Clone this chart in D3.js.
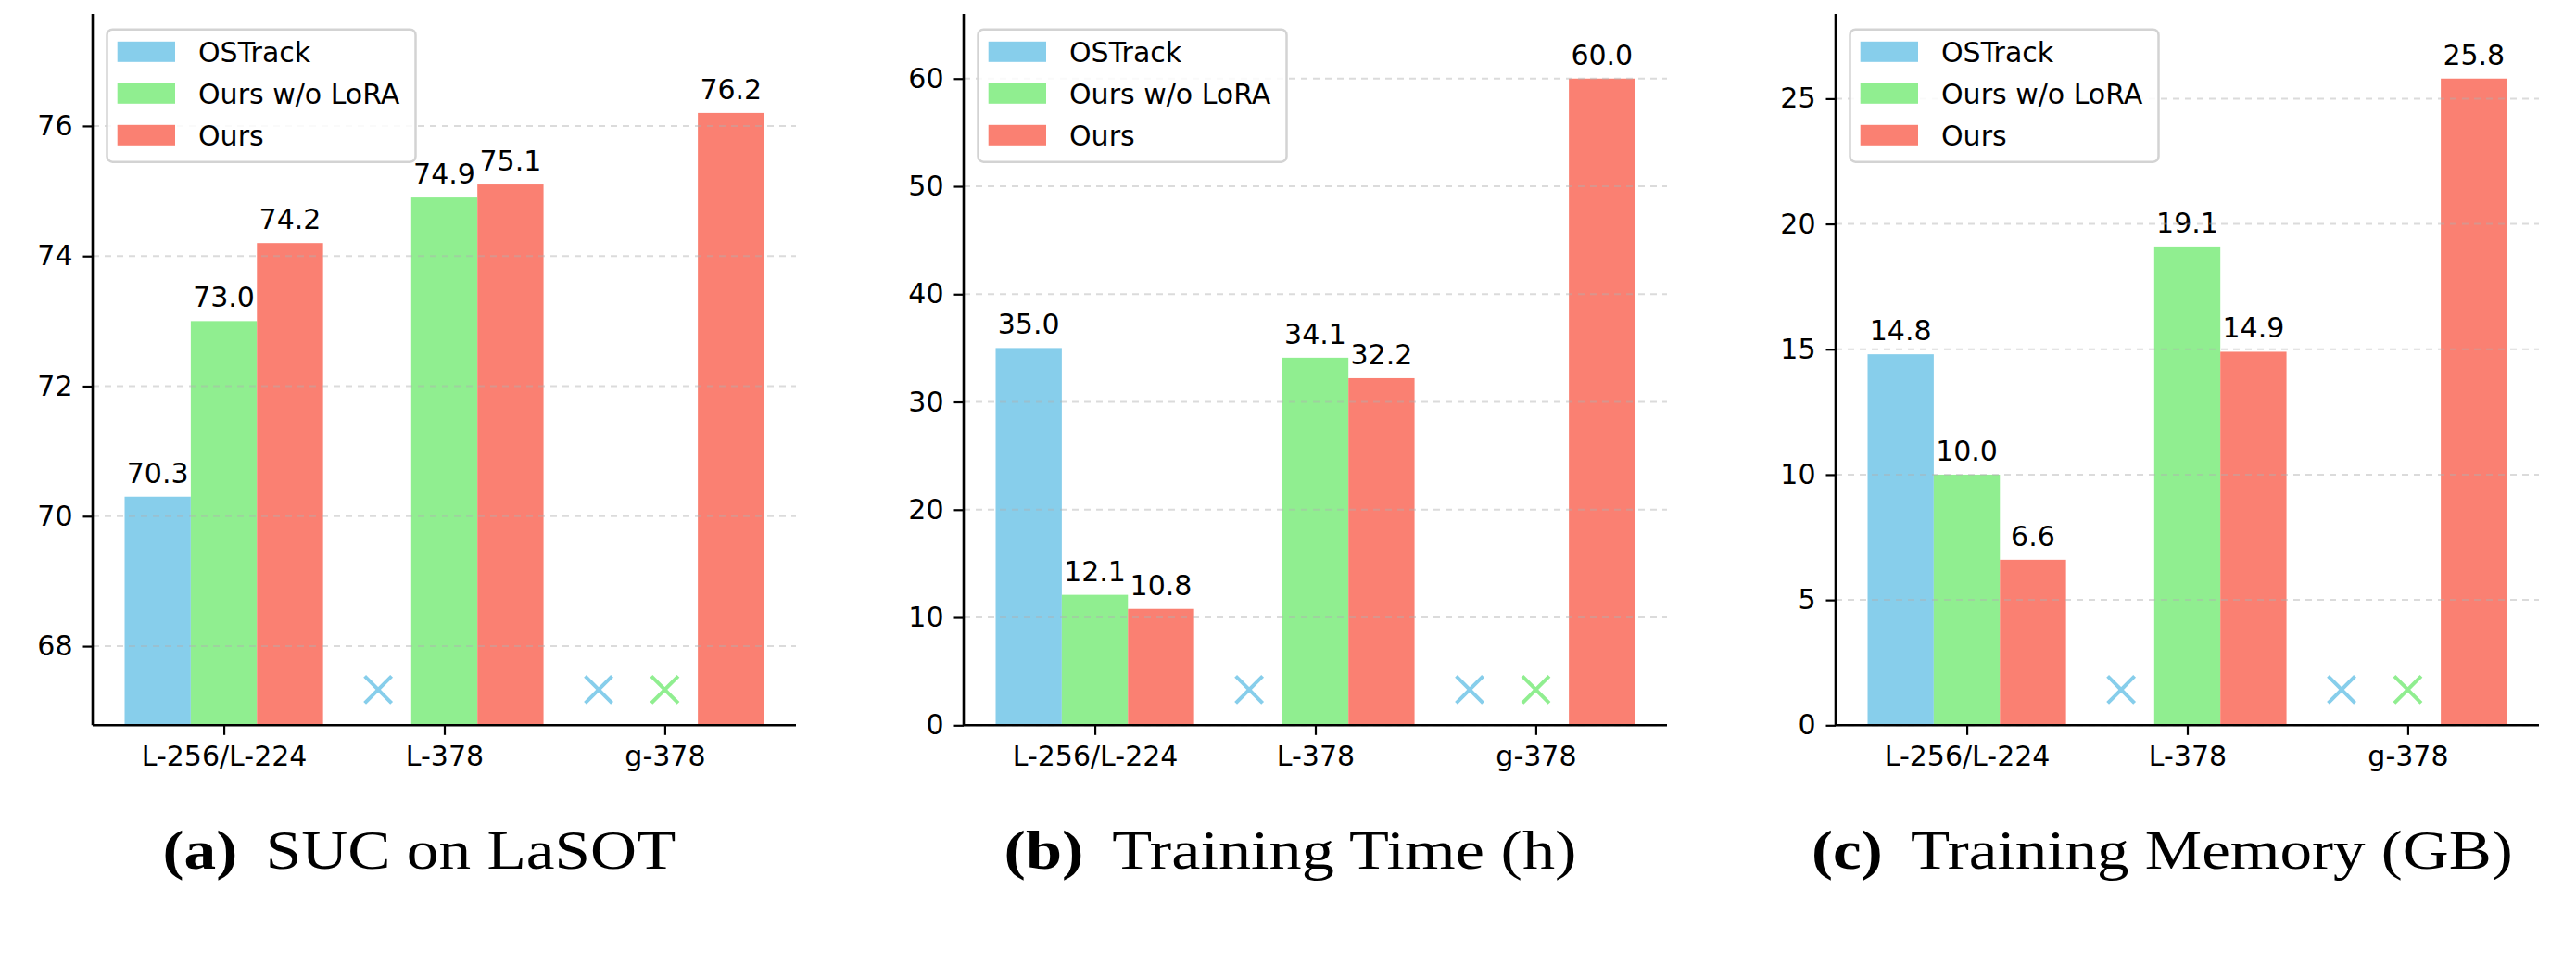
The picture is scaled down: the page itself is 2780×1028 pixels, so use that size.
<!DOCTYPE html>
<html>
<head>
<meta charset="utf-8">
<script src="https://cdn.jsdelivr.net/npm/d3@7"></script>
<style>
  html, body { margin: 0; padding: 0; background: #fff; }
  svg { display: block; }
</style>
</head>
<body>
<svg id="chart" width="2780" height="1028"></svg>
<script>
// ---------- data ----------
const categories = ["L-256/L-224", "L-378", "g-378"];
const seriesNames = ["OSTrack", "Ours w/o LoRA", "Ours"];
const seriesColors = ["#87CEEB", "#90EE90", "#FA8072"];

// (a) SUC on LaSOT
const sucOSTrack = [70.3, null, null];
const sucNoLoRA  = [73.0, 74.9, null];
const sucOurs    = [74.2, 75.1, 76.2];
// (b) Training Time (h)
const timeOSTrack = [35.0, null, null];
const timeNoLoRA  = [12.1, 34.1, null];
const timeOurs    = [10.8, 32.2, 60.0];
// (c) Training Memory (GB)
const memOSTrack = [14.8, null, null];
const memNoLoRA  = [10.0, 19.1, null];
const memOurs    = [6.6, 14.9, 25.8];

const sucTicks  = [68, 70, 72, 74, 76];
const timeTicks = [0, 10, 20, 30, 40, 50, 60];
const memTicks  = [0, 5, 10, 15, 20, 25];

const panelLabels = ["(a)", "(b)", "(c)"];
const panelTitles = ["SUC on LaSOT", "Training Time (h)", "Training Memory (GB)"];

// ---------- layout ----------
const svg = d3.select("#chart");
const axLeft = [100, 1040, 1981];
const axW = 759;
const axTop = 15, axBottom = 782.3;
const titleWidths = [554, 618, 757];
const sansFont = "'DejaVu Sans', sans-serif";

const panels = [
  { series: [sucOSTrack, sucNoLoRA, sucOurs], ticks: sucTicks, mode: "suc" },
  { series: [timeOSTrack, timeNoLoRA, timeOurs], ticks: timeTicks, mode: "zero" },
  { series: [memOSTrack, memNoLoRA, memOurs], ticks: memTicks, mode: "zero" }
];

panels.forEach((p, pi) => {
  const x0 = axLeft[pi];
  const all = p.series.flat().filter(v => v != null);
  const vmin = d3.min(all), vmax = d3.max(all);
  const ylim = p.mode === "suc" ? [vmin * 0.95, vmax * 1.02] : [0, vmax * 1.1];

  const x = d3.scaleLinear().domain([-0.595, 2.595]).range([x0, x0 + axW]);
  const y = d3.scaleLinear().domain(ylim).range([axBottom, axTop]);
  const barW = 0.3;
  const g = svg.append("g");

  // bars
  p.series.forEach((vals, si) => {
    vals.forEach((v, ci) => {
      const cx = ci + (si - 1) * barW;
      if (v == null) {
        const mx = x(cx);
        const my = axBottom - 0.05 * (axBottom - axTop);
        const r = 14.5;
        g.append("path")
          .attr("d", `M${mx - r},${my - r}L${mx + r},${my + r}M${mx - r},${my + r}L${mx + r},${my - r}`)
          .attr("stroke", seriesColors[si])
          .attr("stroke-width", 4)
          .attr("fill", "none");
      } else {
        g.append("rect")
          .attr("x", x(cx - barW / 2))
          .attr("width", x(cx + barW / 2) - x(cx - barW / 2))
          .attr("y", y(v))
          .attr("height", axBottom - y(v))
          .attr("fill", seriesColors[si]);
        g.append("text")
          .attr("x", x(cx))
          .attr("y", y(v) - 15)
          .attr("text-anchor", "middle")
          .attr("font-family", sansFont)
          .attr("font-size", 30)
          .attr("fill", "#000")
          .text(v.toFixed(1));
      }
    });
  });

  // grid (drawn over bars with transparency)
  g.selectAll(".grid").data(p.ticks).enter().append("line")
    .attr("x1", x0).attr("x2", x0 + axW)
    .attr("y1", d => y(d)).attr("y2", d => y(d))
    .attr("stroke", "#b0b0b0")
    .attr("stroke-opacity", 0.45)
    .attr("stroke-width", 2)
    .attr("stroke-dasharray", "7,6");

  // axes
  const yAxis = d3.axisLeft(y).tickValues(p.ticks).tickFormat(d3.format("d")).tickSize(10.5).tickPadding(11);
  const ya = svg.append("g").attr("transform", `translate(${x0},0)`).call(yAxis);
  ya.select(".domain").attr("d", `M0,${axTop}V${axBottom}`).attr("stroke-width", 2.6).attr("stroke", "#000");
  ya.selectAll(".tick line").attr("stroke-width", 2.2).attr("stroke", "#000");
  ya.selectAll(".tick text").attr("font-family", sansFont).attr("font-size", 30).attr("fill", "#000");

  const xAxis = d3.axisBottom(x).tickValues([0, 1, 2]).tickFormat(d => categories[d]).tickSize(10.5).tickPadding(12);
  const xa = svg.append("g").attr("transform", `translate(0,${axBottom})`).call(xAxis);
  xa.select(".domain").attr("d", `M${x0},0H${x0 + axW}`).attr("stroke-width", 2.6).attr("stroke", "#000");
  xa.selectAll(".tick line").attr("stroke-width", 2.2).attr("stroke", "#000");
  xa.selectAll(".tick text").attr("font-family", sansFont).attr("font-size", 30).attr("fill", "#000")
    .attr("dy", "0.71em");

  // legend
  const lg = svg.append("g").attr("transform", `translate(${x0 + 15.5},31.7)`);
  lg.append("rect")
    .attr("width", 333).attr("height", 143)
    .attr("rx", 6).attr("ry", 6)
    .attr("fill", "#fff").attr("fill-opacity", 0.85)
    .attr("stroke", "#d3d3d3").attr("stroke-width", 2.5);
  seriesNames.forEach((name, si) => {
    const cy = 24.1 + si * 45;
    lg.append("rect")
      .attr("x", 11.2).attr("y", cy - 11)
      .attr("width", 62.3).attr("height", 22)
      .attr("fill", seriesColors[si]);
    lg.append("text")
      .attr("x", 98.5).attr("y", cy)
      .attr("dy", "0.36em")
      .attr("font-family", sansFont).attr("font-size", 30).attr("fill", "#000")
      .text(name);
  });

  // caption
  const cx = x0 + axW / 2 - 27;
  const t = svg.append("text")
    .attr("x", 0).attr("y", 0)
    .attr("font-family", "'Liberation Serif', 'Times New Roman', serif")
    .attr("font-size", 59)
    .attr("fill", "#000");
  t.append("tspan").attr("font-weight", "bold").text(panelLabels[pi]);
  t.append("tspan").attr("dx", 26).text(panelTitles[pi]);
  const natural = t.node().getComputedTextLength() + 26;
  const s = titleWidths[pi] / natural;
  t.attr("transform", `translate(${cx - titleWidths[pi] / 2},936.7) scale(${s},1)`);
});
</script>
</body>
</html>
